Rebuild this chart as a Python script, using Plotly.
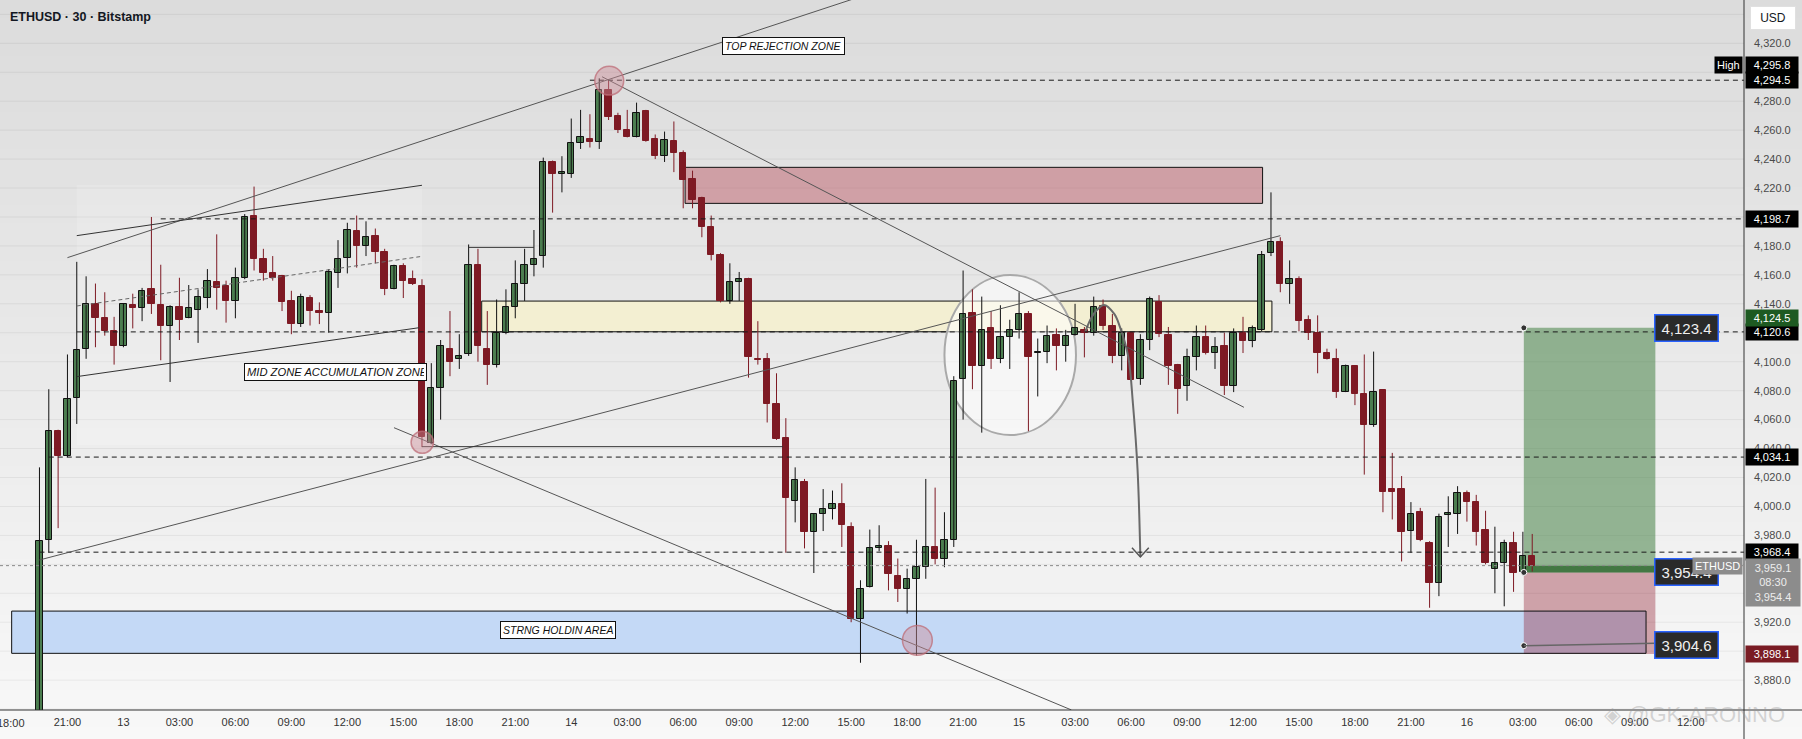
import plotly.graph_objects as go

# ---------------- data (30-minute candles, ETHUSD Bitstamp) ----------------
# slot 0 = 18:00 on the 12th; first drawn candle is 19:30 -> slot 3
FIRST_SLOT = 3
OPEN = [3845, 3977, 4052, 4035, 4075, 4109, 4140, 4130, 4121, 4111,
        4139, 4137, 4150, 4139, 4125, 4138, 4130, 4136, 4144, 4155,
        4152, 4142, 4158, 4201, 4171, 4161, 4159, 4142, 4126, 4144,
        4135, 4134, 4161, 4172, 4190, 4180, 4187, 4176, 4150, 4166,
        4157, 4152, 4044, 4082, 4109, 4102, 4105, 4167, 4109, 4098,
        4120, 4138, 4154, 4167, 4173, 4238, 4230, 4230, 4251, 4254,
        4252, 4288, 4270, 4260, 4255, 4273, 4254, 4242, 4252.5, 4244,
        4226, 4213, 4193, 4174, 4142, 4155, 4157, 4102, 4102, 4071,
        4047, 4004, 4017, 3982, 3995, 3998, 4002, 3986, 3922, 3944,
        3971, 3973, 3952, 3943, 3950, 3958, 3972, 3964, 3977, 4088,
        4134, 4097, 4123, 4102, 4117, 4122, 4133, 4106, 4107, 4118.5,
        4111, 4118.5, 4122, 4120, 4138.5, 4125, 4104, 4120, 4088, 4115,
        4141.5, 4118.5, 4098, 4083, 4103, 4117, 4106, 4111, 4083, 4120,
        4114, 4122, 4175, 4182.5, 4154, 4157, 4129, 4120, 4106, 4102,
        4079, 4097, 4078, 4056, 4080.5, 4012, 4012, 3983, 3996, 3975,
        3947, 3994, 3995, 4009, 4003, 3984, 3956.5, 3961, 3975, 3954.5,
        3966]
HIGH = [4027, 4081, 4053, 4105, 4169, 4159, 4154, 4148, 4131, 4140,
        4147, 4151, 4200, 4167, 4139, 4158, 4153, 4150, 4164, 4188,
        4156, 4165, 4202, 4221, 4178, 4173, 4160, 4149, 4147, 4146,
        4141, 4164, 4184, 4196, 4201, 4197, 4192, 4178, 4167, 4168,
        4163, 4157, 4099, 4115, 4135, 4119, 4181, 4178, 4135, 4143,
        4150, 4170, 4178, 4191, 4241, 4239, 4242, 4268, 4274, 4271,
        4295.8, 4295, 4272, 4274, 4279, 4274, 4257, 4259, 4266, 4246,
        4232, 4214, 4201, 4175, 4168, 4162, 4158, 4128, 4106, 4092,
        4061, 4027, 4019, 3995, 4012, 4011, 4016, 3989, 3949, 3984,
        3987, 3976, 3964, 3957, 3977, 4019, 4013, 3996, 4090, 4163,
        4150, 4145, 4135, 4139, 4129, 4148, 4135, 4116, 4125, 4123,
        4122, 4140, 4124, 4145, 4143, 4133, 4123, 4121, 4119, 4145,
        4146, 4124, 4098.5, 4109, 4125, 4125, 4117, 4120, 4123, 4131,
        4125, 4176.5, 4217, 4186, 4170, 4159, 4132, 4132, 4109, 4109,
        4098, 4097.5, 4105, 4107, 4081, 4037, 4021, 4003, 3999, 3976,
        3995, 4007, 4014, 4011, 4008, 3997, 3986, 3977, 3982.5, 3982.5,
        3981]
LOW = [3838, 3968, 3985, 4034, 4057, 4102, 4110, 4118, 4098, 4110,
       4123, 4128, 4133, 4101, 4086, 4115, 4130, 4113, 4137, 4136,
       4127, 4130, 4157, 4163, 4156, 4156, 4135, 4119, 4124, 4125,
       4126, 4120, 4151, 4161, 4165, 4173, 4168, 4146, 4150, 4144,
       4153, 4041, 4043, 4060, 4090, 4095, 4104, 4100, 4084, 4096,
       4119, 4130, 4142, 4159, 4165, 4203, 4217, 4227, 4247, 4248,
       4247, 4267, 4258, 4255, 4255, 4252, 4240, 4238, 4231, 4206,
       4206, 4186, 4170, 4141, 4140, 4142, 4089, 4098, 4058, 4046,
       3968, 3989, 3971, 3954, 3983, 3991, 3972, 3920, 3892, 3944,
       3969, 3942, 3934, 3926, 3897, 3950, 3960, 3958, 3972, 4060,
       4081, 4051, 4095, 4099, 4095, 4116, 4052, 4076, 4099, 4094,
       4100, 4118, 4103, 4118, 4122, 4099, 4094, 4087, 4084, 4108,
       4117, 4084, 4064, 4073, 4094, 4105, 4095, 4077, 4079, 4106,
       4110, 4121, 4173, 4148, 4140, 4121, 4115, 4092, 4101.5, 4075,
       4079, 4070, 4022, 4055, 3996, 3991, 3962, 3968, 3976, 3930,
       3938, 3972, 3981, 3989.5, 3973, 3960, 3940, 3931, 3941, 3953,
       3955]
CLOSE = [3976, 4052, 4035, 4074, 4108, 4140, 4130, 4121, 4111, 4140,
         4137, 4149, 4140, 4125, 4138, 4129, 4137, 4145, 4156, 4151,
         4142, 4158, 4200, 4171, 4161, 4158, 4141, 4126, 4145, 4135,
         4134, 4162, 4171, 4191, 4180, 4186, 4176, 4150, 4166, 4156,
         4154, 4048, 4082, 4111, 4100, 4104, 4167, 4111, 4098, 4120,
         4138, 4154, 4167, 4171, 4238, 4230, 4231, 4251, 4255, 4252,
         4288, 4269, 4260, 4255.5, 4272, 4252.5, 4242, 4253, 4244, 4225.5,
         4212, 4193, 4174, 4142, 4155, 4157, 4103, 4101, 4071, 4046.5,
         4006, 4018, 3982, 3995, 3998, 4002, 3987, 3922.5, 3943, 3971,
         3973, 3953, 3943, 3950, 3958, 3972, 3964, 3977, 4087, 4133,
         4097, 4122, 4102, 4117, 4122, 4133, 4103.5, 4107, 4118, 4111,
         4118, 4123, 4120, 4138, 4125, 4104, 4120, 4087.5, 4115, 4143,
         4119, 4097, 4081, 4103, 4117, 4106, 4110, 4083, 4120, 4114,
         4123, 4174, 4182.5, 4154, 4157, 4128, 4120, 4106, 4102, 4079,
         4097, 4078, 4056, 4079, 4010, 4010, 3982, 3995, 3976.5, 3947,
         3993, 3995.5, 4009, 4003, 3982, 3961, 3961, 3975, 3954, 3966,
         3959.1]

X_TICK_TEXT = ["18:00", "21:00", "13", "03:00", "06:00", "09:00", "12:00", "15:00",
               "18:00", "21:00", "14", "03:00", "06:00", "09:00", "12:00", "15:00",
               "18:00", "21:00", "15", "03:00", "06:00", "09:00", "12:00", "15:00",
               "18:00", "21:00", "16", "03:00", "06:00", "09:00", "12:00"]
SLOTS_PER_TICK = 6
# price labels TradingView leaves visible (others are hidden by the tags)
Y_TICKS = [4320, 4280, 4260, 4240, 4220, 4180, 4160, 4140, 4100, 4080, 4060, 4040,
           4020, 4000, 3980, 3920, 3880]

# horizontal key levels (price, slot where the ray starts)
LEVELS = [4294.5, 4198.7, 4120.6, 4034.1, 3968.4]
LEVEL_START = [62, 16, 7, 4, 3]
LAST_PRICE = 3959.1
HIGH_PRICE = 4295.8
TP_PRICE, ENTRY_PRICE, STOP_PRICE = 4123.4, 3954.4, 3898.1
TARGET_LABELS = [4123.4, 3954.4, 3904.6]

GREEN = "#4b7d4f"
RED = "#7e1a24"
FONT = "Liberation Sans"

X_RANGE = [-1.23, 185.7]
Y_RANGE = [3859.35, 4349.92]

# ---------------- figure ----------------
fig = go.Figure()
n = len(OPEN)
xs = [FIRST_SLOT + k for k in range(n)]
up = [k for k in range(n) if CLOSE[k] >= OPEN[k]]
dn = [k for k in range(n) if CLOSE[k] < OPEN[k]]


def wick_xy(idx):
    wx, wy = [], []
    for k in idx:
        wx += [xs[k], xs[k], None]
        wy += [LOW[k], HIGH[k], None]
    return wx, wy


for idx, col in ((up, "#111111"), (dn, RED)):
    wx, wy = wick_xy(idx)
    fig.add_trace(go.Scatter(x=wx, y=wy, mode="lines", line=dict(color=col, width=1),
                             hoverinfo="skip", showlegend=False))

for idx, fill, edge in ((up, GREEN, "#111111"), (dn, RED, RED)):
    fig.add_trace(go.Bar(
        x=[xs[k] for k in idx],
        y=[max(abs(CLOSE[k] - OPEN[k]), 0.9) for k in idx],
        base=[min(OPEN[k], CLOSE[k]) for k in idx],
        width=0.68,
        marker=dict(color=fill, line=dict(color=edge, width=1)),
        hoverinfo="skip", showlegend=False))

# curved projection arrow
ARC_X = [115.1, 116.0, 117.1, 118.2, 118.8, 119.7, 120.2, 120.7, 121.0]
ARC_Y = [4120.7, 4133, 4139.2, 4133, 4124.2, 4103.5, 4071.3, 4025.2, 3965.1]
fig.add_trace(go.Scatter(x=ARC_X, y=ARC_Y, mode="lines",
                         line=dict(color="#6a6a6a", width=2, shape="spline"),
                         hoverinfo="skip", showlegend=False))
fig.add_trace(go.Scatter(x=[120.1, 121.0, 121.9], y=[3971.5, 3965.1, 3971.5], mode="lines",
                         line=dict(color="#555555", width=1.5),
                         hoverinfo="skip", showlegend=False))

# position tool anchor dots
fig.add_trace(go.Scatter(x=[162.1, 162.1, 162.1], y=[TP_PRICE, ENTRY_PRICE, 3903.8],
                         mode="markers",
                         marker=dict(color="#333333", size=6, line=dict(color="white", width=1)),
                         hoverinfo="skip", showlegend=False))

shapes = []

# background gradient (paper)
NB = 40
for b in range(NB):
    y0 = -0.05 + b * 1.05 / NB
    y1 = -0.05 + (b + 1) * 1.05 / NB + 0.002
    frac = (b + 0.5) / NB
    g = int(249 - 29 * frac)
    shapes.append(dict(type="rect", xref="paper", yref="paper", x0=-0.01, x1=1.05,
                       y0=y0, y1=y1, fillcolor=f"rgb({g},{g},{g})",
                       line=dict(width=0), layer="below"))


def rect(x0, x1, y0, y1, fill, line_col=None, lw=1, layer="below"):
    shapes.append(dict(type="rect", xref="x", yref="y", x0=x0, x1=x1, y0=y0, y1=y1,
                       fillcolor=fill,
                       line=dict(color=line_col or "rgba(0,0,0,0)", width=lw if line_col else 0),
                       layer=layer))


def seg(x0, y0, x1, y1, color="#555555", width=1, dash="solid", layer="above"):
    shapes.append(dict(type="line", xref="x", yref="y", x0=x0, y0=y0, x1=x1, y1=y1,
                       line=dict(color=color, width=width, dash=dash), layer=layer))


def circ(xc, yc, dx, dy, fill, line_col, lw=1.5, layer="above"):
    shapes.append(dict(type="circle", xref="x", yref="y", x0=xc - dx, x1=xc + dx,
                       y0=yc - dy, y1=yc + dy, fillcolor=fill,
                       line=dict(color=line_col, width=lw), layer=layer))


# zones
rect(7, 44, 4042.5, 4222.1, "rgba(255,255,255,0.16)")
rect(72.2, 134.1, 4209.4, 4234.3, "rgba(180,60,75,0.40)", "#111111")
rect(50.4, 135.1, 4120.7, 4141.9, "#f3efd2", "#111111")
rect(0.02, 175.2, 3898.5, 3927.7, "#c4d9f6")
# long position tool
rect(162.1, 176.2, ENTRY_PRICE, TP_PRICE, "rgba(70,130,70,0.55)")
rect(162.1, 176.2, STOP_PRICE, ENTRY_PRICE, "rgba(140,20,40,0.36)")
rect(162.1, 176.2, ENTRY_PRICE, LAST_PRICE, "rgba(40,100,40,0.75)")
rect(0.02, 175.2, 3898.5, 3927.7, "rgba(0,0,0,0)", "#111111")
# ellipse around consolidation
circ(107.05, 4104.65, 7.05, 55.25, "rgba(255,255,255,0.55)", "#a9a9a9", 2, "below")

# horizontal levels
for lv, st in zip(LEVELS, LEVEL_START):
    seg(st, lv, X_RANGE[1], lv, color="#1a1a1a", width=1, dash="5px,4px")
seg(X_RANGE[0], LAST_PRICE, X_RANGE[1], LAST_PRICE, color="#8a8a8a", width=1, dash="dot")

# trend lines
seg(3.0, 3963.0, 136.0, 4187.1)                 # long rising support
seg(6.0, 4171.9, 92.0, 4354.4)                  # top rejection trendline
seg(7.0, 4187.1, 44.0, 4221.9, color="#333333")  # accumulation top
seg(7.0, 4089.7, 43.7, 4123.5, color="#333333")  # accumulation bottom
seg(7.0, 4138.5, 43.8, 4172.6, color="#666666", dash="4px,3px")
seg(63.3, 4296.9, 132.1, 4068.5)                # descending from the peak
seg(41.0, 4054.4, 113.6, 3859.4)                # descending lower line
seg(44.0, 4041.3, 82.7, 4041.3, color="#333333")
seg(49.0, 4179.0, 56.0, 4179.0, color="#333333")
seg(162.1, 3903.8, 176.2, 3905.4, color="#666666", width=1.5)

# reaction circles
circ(64.07, 4294.2, 1.55, 10.0, "rgba(205,140,150,0.45)", "rgba(190,110,120,0.75)")
circ(44.03, 4044.3, 1.2, 7.6, "rgba(205,140,150,0.45)", "rgba(190,110,120,0.75)")
circ(97.1, 3907.5, 1.6, 10.3, "rgba(205,140,150,0.45)", "rgba(190,110,120,0.75)")

# axis frame lines (paper)
shapes.append(dict(type="line", xref="paper", yref="paper", x0=1, x1=1, y0=-0.05, y1=1,
                   line=dict(color="#333333", width=1)))
shapes.append(dict(type="line", xref="paper", yref="paper", x0=0, x1=1.04, y0=0, y1=0,
                   line=dict(color="#333333", width=1)))

annotations = []


def box_text(x, y, text, size=10.5, xanchor="center", width=None, align="center"):
    d = dict(x=x, y=y, xref="x", yref="y", text=f"<i>{text}</i>", showarrow=False,
             font=dict(family=FONT, size=size, color="#111111"), bgcolor="white",
             bordercolor="#111111", borderwidth=1, borderpad=2, xanchor=xanchor,
             yanchor="middle", align=align)
    if width:
        d["width"] = width
    annotations.append(d)


box_text(82.7, 4317.8, "TOP REJECTION ZONE", 10.5)
box_text(24.95, 4092.9, "MID ZONE ACCUMULATION ZONE", 11.2, xanchor="left", width=177, align="left")
box_text(58.6, 3914.6, "STRNG HOLDIN AREA", 10.5)


def axis_tag(price, text, bg, yshift=0, fcolor="white"):
    annotations.append(dict(x=1, xref="paper", xanchor="left", xshift=1, y=price, yref="y",
                            yanchor="middle", yshift=yshift, text=text, showarrow=False,
                            bgcolor=bg, font=dict(family=FONT, size=11, color=fcolor),
                            width=48, borderpad=2, align="center"))


for lv in LEVELS:
    axis_tag(lv, f"{lv:,.1f}", "#000000")
axis_tag(HIGH_PRICE, f"{HIGH_PRICE:,.1f}", "#000000", yshift=13)
annotations.append(dict(x=1, xref="paper", xanchor="right", xshift=-1, y=HIGH_PRICE, yref="y",
                        yanchor="middle", yshift=13, text="High", showarrow=False,
                        bgcolor="#000000", font=dict(family=FONT, size=11, color="white"),
                        borderpad=2))
axis_tag(TP_PRICE + 1.1, f"{TP_PRICE + 1.1:,.1f}", "#1e5a22", yshift=8)
axis_tag(STOP_PRICE, f"{STOP_PRICE:,.1f}", "#7a1c24")
annotations.append(dict(x=1, xref="paper", xanchor="left", xshift=1, y=LAST_PRICE, yref="y",
                        yshift=8, yanchor="top",
                        text=f"{LAST_PRICE:,.1f}<br>08:30<br>{ENTRY_PRICE:,.1f}",
                        showarrow=False, bgcolor="#8c8c8c",
                        font=dict(family=FONT, size=11, color="#ececec"), width=48,
                        borderpad=3, align="center"))

for price in TARGET_LABELS:
    annotations.append(dict(x=179.5, y=price, xref="x", yref="y", text=f"{price:,.1f}",
                            xanchor="center", yanchor="middle",
                            showarrow=False, bgcolor="#2a2a2a", bordercolor="#2962ff",
                            borderwidth=1.5, borderpad=4, width=54,
                            font=dict(family=FONT, size=15, color="#f0f0f0")))
annotations.append(dict(x=1, xref="paper", xanchor="right", xshift=-1, y=LAST_PRICE, yref="y",
                        yanchor="middle", text="ETHUSD", showarrow=False, bgcolor="#8c8c8c",
                        font=dict(family=FONT, size=11, color="white"), borderpad=2))

annotations.append(dict(x=1773 / 1744, y=1 - 18.5 / 710, xref="paper", yref="paper", text="USD",
                        xanchor="center", yanchor="middle",
                        showarrow=False, bgcolor="white", bordercolor="#e0e0e0", borderwidth=1,
                        borderpad=4, width=36, font=dict(family=FONT, size=12, color="#131722")))
annotations.append(dict(x=8 / 1744, y=1 - 17 / 710, xref="paper", yref="paper",
                        xanchor="left", yanchor="middle",
                        text="<b>ETHUSD · 30 · Bitstamp</b>", showarrow=False,
                        font=dict(family=FONT, size=12.5, color="#131722")))
annotations.append(dict(x=0, y=1 - 723 / 710, xref="x", yref="paper", text=X_TICK_TEXT[0],
                        xanchor="center", yanchor="middle", showarrow=False,
                        font=dict(family=FONT, size=11, color="#333333")))
annotations.append(dict(x=1694 / 1744, y=1 - 714 / 710, xref="paper", yref="paper",
                        xanchor="center", yanchor="middle",
                        text="◈ @GK-ARONNO", showarrow=False,
                        font=dict(family=FONT, size=22, color="rgba(150,150,150,0.38)")))

fig.update_layout(
    width=1802, height=739,
    margin=dict(l=0, r=58, t=0, b=29, pad=0),
    paper_bgcolor="#f0f0f0", plot_bgcolor="rgba(0,0,0,0)",
    barmode="overlay", bargap=0, hovermode=False, showlegend=False,
    shapes=shapes, annotations=annotations,
    xaxis=dict(range=X_RANGE, showgrid=False, zeroline=False, showline=False, ticks="",
               tickvals=[k * SLOTS_PER_TICK for k in range(1, len(X_TICK_TEXT))],
               ticktext=X_TICK_TEXT[1:], ticklabelstandoff=4,
               tickfont=dict(family=FONT, size=11, color="#333333")),
    yaxis=dict(range=Y_RANGE, side="right", tickvals=Y_TICKS, tickformat=",.1f",
               showgrid=False, zeroline=False, showline=False, ticks="", ticklabelstandoff=9,
               tickfont=dict(family=FONT, size=11, color="#4a4a4a")),
)
# price grid every 20 (TradingView draws all grid rows, even where labels are hidden)
for k in range(int(Y_RANGE[0] // 20) + 1, int(Y_RANGE[1] // 20) + 1):
    fig.add_hline(y=k * 20, line=dict(color="rgba(0,0,0,0.06)", width=1), layer="below")

fig.write_html("out.html", include_plotlyjs=True, full_html=True,
               config={"displayModeBar": False},
               post_script="document.body.style.margin='0';document.body.style.overflow='hidden';")
